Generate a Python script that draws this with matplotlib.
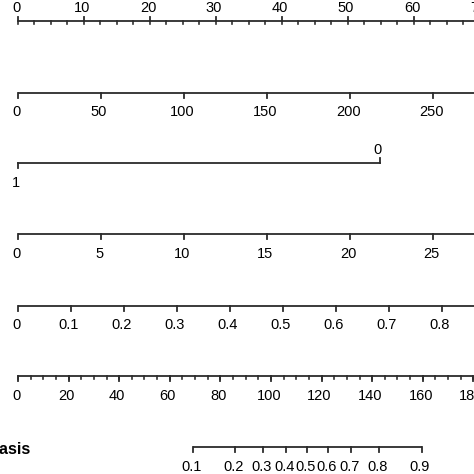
#
# nomogram (cropped view)
import numpy as np
import matplotlib.pyplot as plt

plt.rcParams['font.family'] = ['Liberation Sans', 'DejaVu Sans']

# Points scale
points_ticks = np.arange(0, 101, 10)
points_minor = np.arange(0, 100.1, 2.5)

# continuous predictor A (points per unit)
var_a_ticks = [0, 50, 100, 150, 200, 250, 300]
var_a_scale = 0.2516

# binary predictor
var_b_levels = ['1', '0']
var_b_points = [0, 54.8]

# continuous predictor C
var_c_ticks = [0, 5, 10, 15, 20, 25, 30]
var_c_scale = 2.516

# continuous predictor D
var_d_ticks = [0, 0.1, 0.2, 0.3, 0.4, 0.5, 0.6, 0.7, 0.8, 0.9]
var_d_scale = 80.3

# Total points
total_ticks = np.arange(0, 181, 20)
total_minor = np.arange(0, 181, 5)
total_scale = 0.3833   # points per total point

# Risk (logit scale on total points)
risk_ticks = [0.1, 0.2, 0.3, 0.4, 0.5, 0.6, 0.7, 0.8, 0.9]
risk_intercept = 114.4
risk_slope = 20.55

col = '#2b2b2b'
lw = 1.3
fs = 10.5
dx = -0.3   # labels sit a touch left of their ticks

fig = plt.figure(figsize=(4.74, 4.74), dpi=100)
ax = fig.add_axes([0, 0, 1, 1])
ax.set_xlim(-18 / 6.6, 456 / 6.6)
ax.set_ylim(474, 0)
ax.axis('off')


def axis_row(y, xs, labels, tick_dir, label_dy, minor=None, major_len=4.5, minor_len=2.5):
    allx = xs + (minor or [])
    ax.plot([min(allx), max(allx)], [y, y], color=col, lw=lw, solid_capstyle='butt')
    for x, lab in zip(xs, labels):
        ax.plot([x, x], [y, y + tick_dir * major_len], color=col, lw=lw)
        ax.text(x + dx, y + label_dy, lab, ha='center', va='center', fontsize=fs, color='black')
    if minor:
        for x in minor:
            ax.plot([x, x], [y, y + minor_len], color=col, lw=lw * 0.9)


def fmt(v):
    return ('%g' % v)


# Points (ticks up, labels above)
axis_row(21, list(points_ticks), [fmt(v) for v in points_ticks], -1, -13,
         minor=list(points_minor))

# predictor A
axis_row(93, [v * var_a_scale for v in var_a_ticks], [fmt(v) for v in var_a_ticks], 1, 19)

# predictor B (categorical)
yb = 163
ax.plot(var_b_points, [yb, yb], color=col, lw=lw)
ax.plot([var_b_points[0]] * 2, [yb, yb + 5], color=col, lw=lw)
ax.plot([var_b_points[1]] * 2, [yb, yb - 5], color=col, lw=lw)
ax.text(var_b_points[0] + dx, yb + 20, var_b_levels[0], ha='center', va='center', fontsize=fs)
ax.text(var_b_points[1] + dx, yb - 13, var_b_levels[1], ha='center', va='center', fontsize=fs)

# predictor C
axis_row(234, [v * var_c_scale for v in var_c_ticks], [fmt(v) for v in var_c_ticks], 1, 20)

# predictor D
axis_row(306, [v * var_d_scale for v in var_d_ticks], [fmt(v) for v in var_d_ticks], 1, 19)

# Total points
axis_row(376, [v * total_scale for v in total_ticks], [fmt(v) for v in total_ticks], 1, 20,
         minor=[v * total_scale for v in total_minor])

# Risk
risk_tot = [risk_intercept + risk_slope * np.log(p / (1 - p)) for p in risk_ticks]
axis_row(447, [t * total_scale for t in risk_tot], [fmt(p) for p in risk_ticks], 1, 20)
ax.text((30 - 18) / 6.6, 449, 'Risk of Metastasis', ha='right', va='center',
        fontsize=11.5, fontweight='bold')

fig.savefig('out.png', dpi=100)
